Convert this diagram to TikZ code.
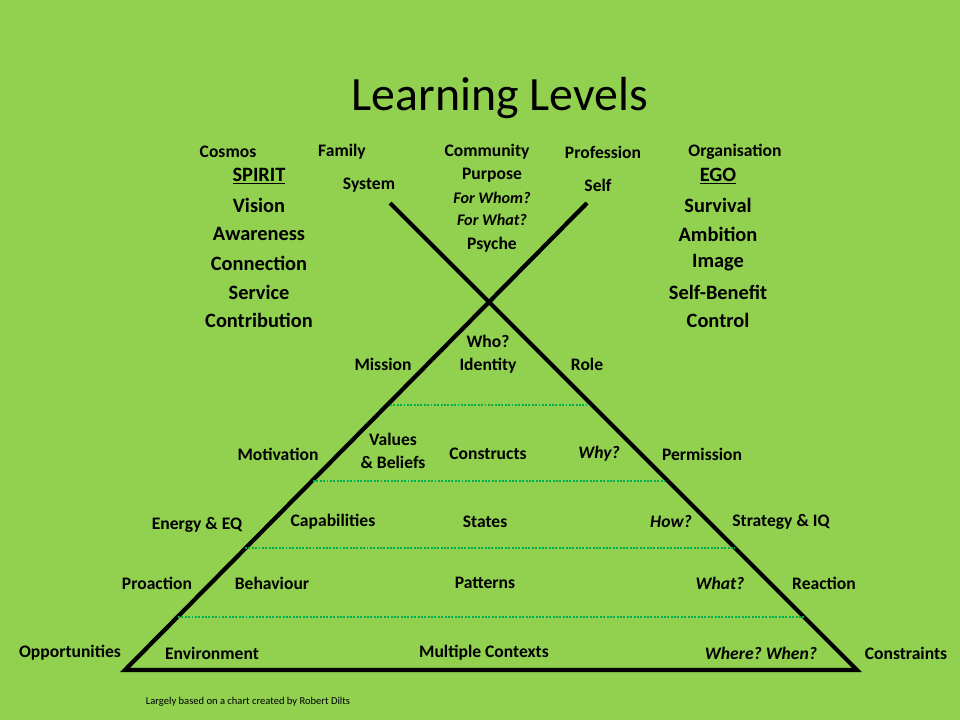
\documentclass[tikz,border=0pt]{standalone}
\usepackage{fontspec}
\setmainfont{Carlito}
\definecolor{bg}{HTML}{92D050}
\definecolor{dotgreen}{HTML}{00B050}
\begin{document}
\begin{tikzpicture}[x=0.025cm,y=-0.025cm,
  lab/.style={font=\bfseries\fontsize{12.5}{14}\selectfont,inner sep=0pt},
  big/.style={font=\bfseries\fontsize{14.5}{17}\selectfont,inner sep=0pt},
  lvl/.style={dotgreen,densely dotted,line width=1.4pt}]
  \fill[bg] (0,0) rectangle (960,720);
  \useasboundingbox (0,0) rectangle (960,720);
  \node (title) at (500,98) {\fontsize{34}{40}\selectfont Learning Levels};
  % the X and the base
  \coordinate (tl) at (390,203);
  \coordinate (tr) at (587,203);
  \coordinate (bl) at (125,670);
  \coordinate (br) at (857,670);
  \draw[line width=3pt] (tl) -- (br) -- (bl) -- (tr);
  % level lines
  \draw[lvl] (390,405) -- (587,405);
  \draw[lvl] (313,481) -- (665,481);
  \draw[lvl] (245,548) -- (735,548);
  \draw[lvl] (178,617) -- (805,617);
  % top row
  \node[lab] (cosmos) at (228,152) {Cosmos};
  \node[lab] (family) at (342,152) {Family};
  \node[lab] (community) at (487,152) {Community};
  \node[lab] (profession) at (603,152) {Profession};
  \node[lab] (organisation) at (735,152) {Organisation};
  \node[lab] (system) at (369,185) {System};
  \node[lab] (self) at (598,185) {Self};
  \node[lab] (purpose) at (492,175) {Purpose};
  \node[lab,font=\bfseries\itshape\fontsize{11.5}{14}\selectfont] (whom) at (492,198) {For Whom?};
  \node[lab,font=\bfseries\itshape\fontsize{11.5}{14}\selectfont] (what) at (492,220) {For What?};
  \node[lab] (psyche) at (492,245) {Psyche};
  % spirit and ego lists
  \node[big] (spirit) at (259,176) {\underline{SPIRIT}};
  \foreach \t/\y in {Vision/205,Awareness/234,Connection/263,Service/292,Contribution/320}
    \node[big] (s-\t) at (259,\y) {\t};
  \node[big] (ego) at (718,176) {\underline{EGO}};
  \foreach \t/\y in {Survival/205,Ambition/234,Image/263,Self-Benefit/292,Control/320}
    \node[big] (e-\t) at (718,\y) {\t};
  % levels
  \node[lab,align=center] (identity) at (488,354) {Who?\\[2pt]Identity};
  \node[lab] (mission) at (383,364) {Mission};
  \node[lab] (role) at (587,364) {Role};
  \node[lab] (motivation) at (278,454) {Motivation};
  \node[lab,align=center] (values) at (393,451) {Values\\[2pt]\& Beliefs};
  \node[lab] (constructs) at (488,454) {Constructs};
  \node[lab,font=\bfseries\itshape\fontsize{12.5}{14}\selectfont] (why) at (599,454) {Why?};
  \node[lab] (permission) at (702,454) {Permission};
  \node[lab] (energy) at (197,525) {Energy \& EQ};
  \node[lab] (capab) at (333,522) {Capabilities};
  \node[lab] (states) at (485,522) {States};
  \node[lab,font=\bfseries\itshape\fontsize{12.5}{14}\selectfont] (how) at (671,522) {How?};
  \node[lab] (strategy) at (781,522) {Strategy \& IQ};
  \node[lab] (proaction) at (157,583) {Proaction};
  \node[lab] (behaviour) at (272,583) {Behaviour};
  \node[lab] (patterns) at (485,583) {Patterns};
  \node[lab,font=\bfseries\itshape\fontsize{12.5}{14}\selectfont] (whatq) at (720,583) {What?};
  \node[lab] (reaction) at (824,583) {Reaction};
  \node[lab] (opport) at (70,653) {Opportunities};
  \node[lab] (environment) at (212,653) {Environment};
  \node[lab] (contexts) at (484,653) {Multiple Contexts};
  \node[lab,font=\bfseries\itshape\fontsize{12.5}{14}\selectfont] (wherewhen) at (761,653) {Where?\ When?};
  \node[lab] (constraints) at (906,653) {Constraints};
  \node[inner sep=0pt,font=\fontsize{7.5}{9}\selectfont] (credit) at (248,702) {Largely based on a chart created by Robert Dilts};
\end{tikzpicture}
\end{document}
